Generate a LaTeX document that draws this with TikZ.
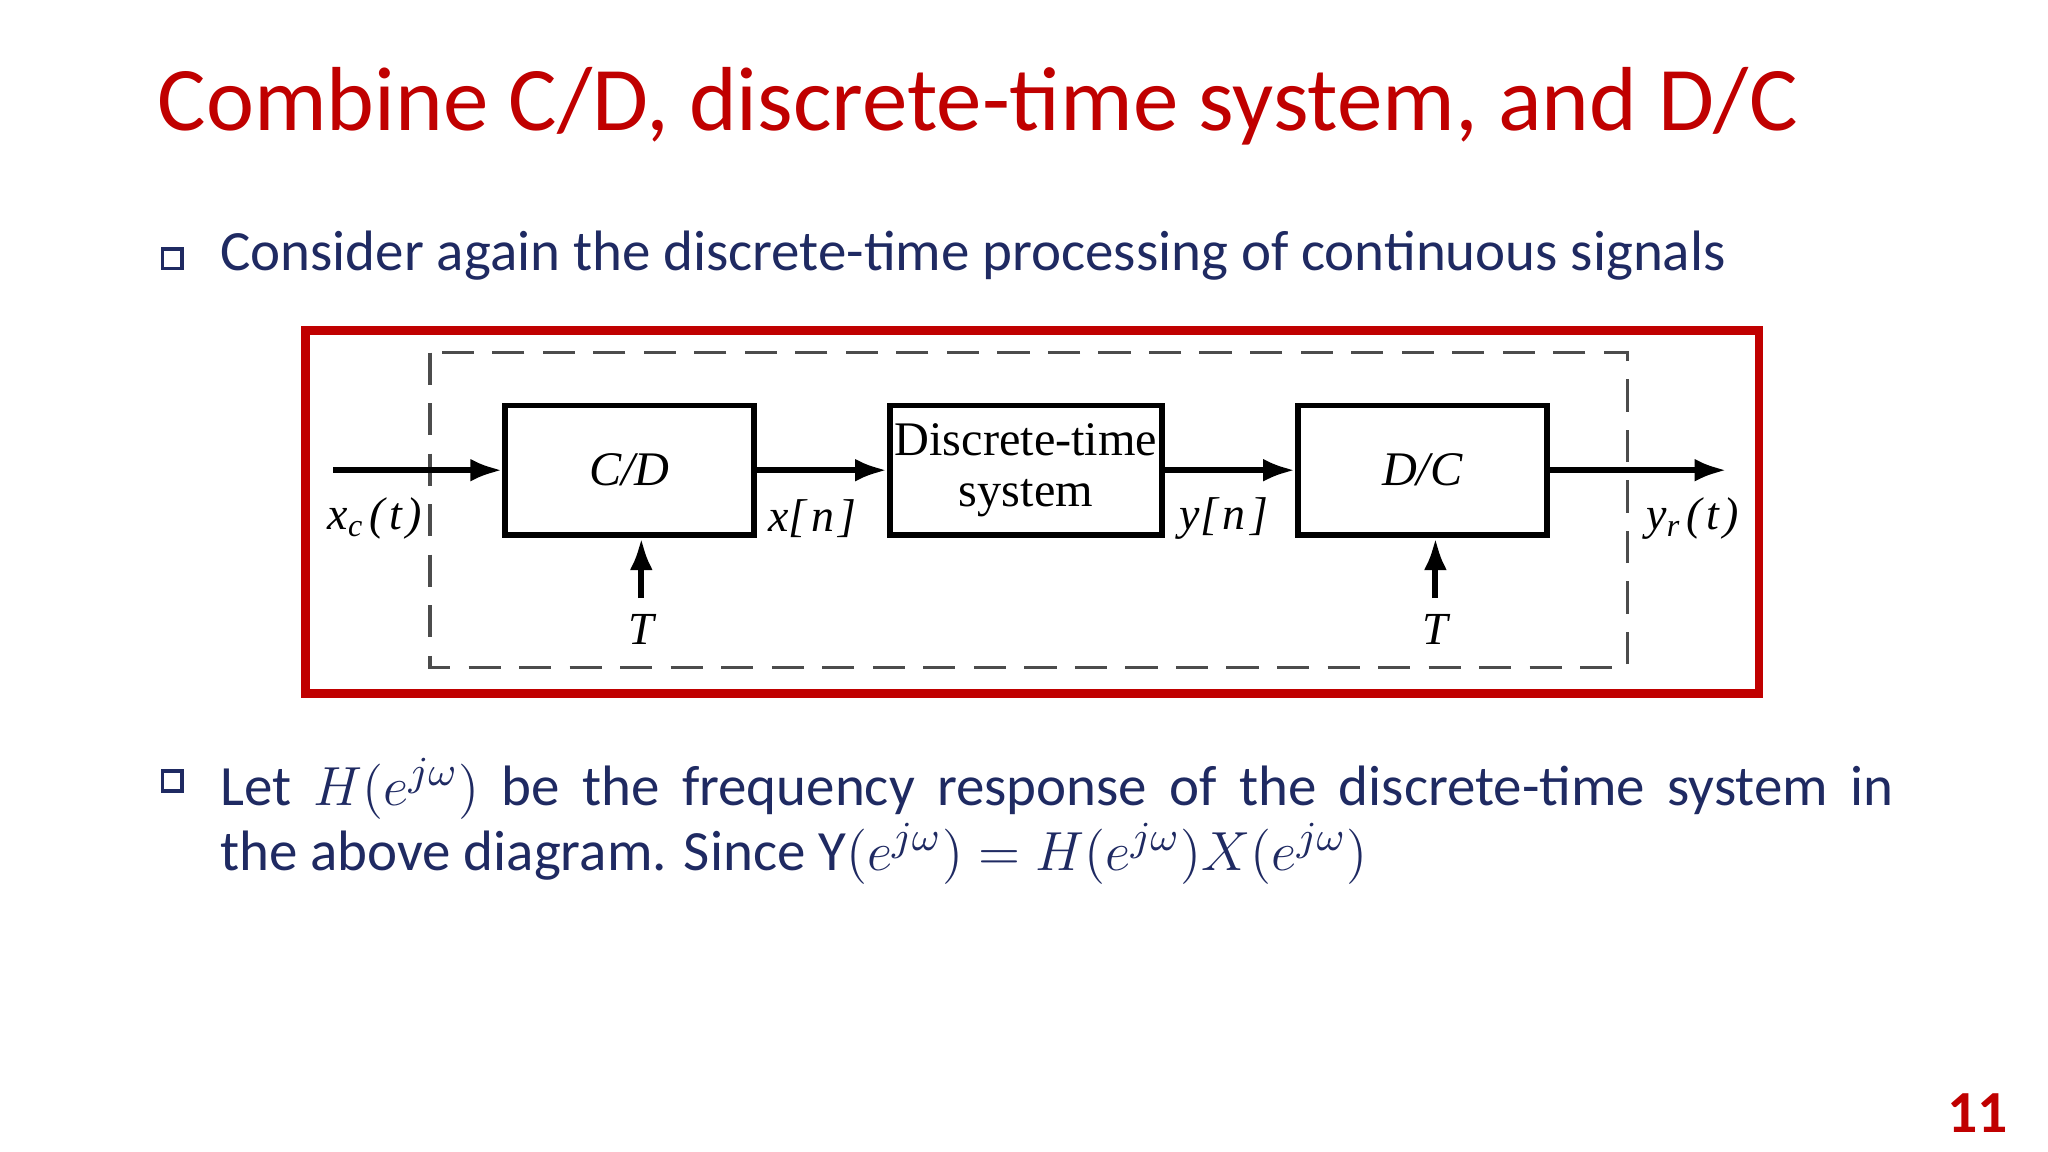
\documentclass[tikz,border=0pt]{standalone}
\usepackage{fontspec}
\setmainfont{Carlito}
\newfontfamily\diagfont{Liberation Serif}
\usetikzlibrary{positioning,arrows.meta}
\definecolor{titlered}{RGB}{192,0,0}
\definecolor{navy}{RGB}{31,42,98}
\begin{document}
\begin{tikzpicture}
            [x=0.01cm, y=-0.01cm,
            block/.style={draw, line width=1.3pt, minimum width=1.9cm, minimum height=0.99cm, font=\diagfont\fontsize{10.5}{11}\selectfont, align=center, inner sep=1pt},
            lbl/.style={font=\diagfont\fontsize{10}{11}\selectfont\itshape},
            sig/.style={line width=1.3pt, -{Latex[length=7pt,width=5pt]}},
            sqbox/.style={draw=navy, line width=0.8pt, minimum size=0.15cm, inner sep=0pt, fill=white},
            bul/.style={text=navy, font=\fontsize{12.4}{14.2}\selectfont, anchor=west, inner sep=0pt}]

            \useasboundingbox[fill=white] (0,0) rectangle (1568,882);

            % Title and bullets
            \node[anchor=base west, inner sep=0pt, text=titlered, font=\fontsize{19.8}{22}\selectfont] (title) at (120,100) {Combine C/D, discrete-time system, and D/C};
            \node[sqbox] (sq1) at (132,198) {};
            \node[bul] (b1) at (168,196) {Consider again the discrete-time processing of continuous signals};

            % Frame
            \draw[titlered, line width=1.8pt] (234,253) rectangle (1347,531);
            \draw[dashed, thick, dash pattern=on 7pt off 4pt, gray!60!black] (329,270) rectangle (1246,511);

            % Blocks
            \node[block] (cd) at (482,360) {\itshape C/D};
            \node[block, minimum width=2.07cm] (dts) at (785.5,360) {Discrete-time\\system};
            \node[block] (dc) at (1089,360) {\itshape D/C};
            \coordinate (in) at (255,360);
            \coordinate (out) at (1322,360);
            \coordinate (t1) at (491,458);
            \coordinate (t2) at (1099,458);

            \draw[sig] (in) -- (cd);
            \draw[sig] (cd) -- (dts);
            \draw[sig] (dts) -- (dc);
            \draw[sig] (dc) -- (out);
            \draw[sig] (t1) -- (cd.south -| t1);
            \draw[sig] (t2) -- (dc.south -| t2);

            % Labels
            \node[lbl] (xc) at (287,397) {x\textsubscript{c}\kern1pt(\kern1pt t\kern1pt)};
            \node[lbl] (xn) at (622,397) {x[\kern1pt n\kern1pt]};
            \node[lbl] (yn) at (937,397) {y[\kern1pt n\kern1pt]};
            \node[lbl] (yr) at (1296,397) {y\textsubscript{r}\kern1pt(\kern1pt t\kern1pt)};
            \node[lbl] (T1) at (491,482) {T};
            \node[lbl] (T2) at (1099,482) {T};

            \node[sqbox] (sq2) at (132,598) {};
            \node[bul, anchor=north west, text width=12.8cm, align=justify] (b2) at (168,580)
              {\hyphenpenalty=10000 Let $H(e^{j\omega})$ be the frequency response of the discrete-time system in\linebreak the above diagram. Since $\mathrm{Y}\bigl(e^{j\omega}\bigr)=H\bigl(e^{j\omega}\bigr)X(e^{j\omega})$};

            \node[text=titlered, font=\bfseries\fontsize{13}{13}\selectfont] (pg) at (1514,852) {11};
        \end{tikzpicture}
\end{document}
